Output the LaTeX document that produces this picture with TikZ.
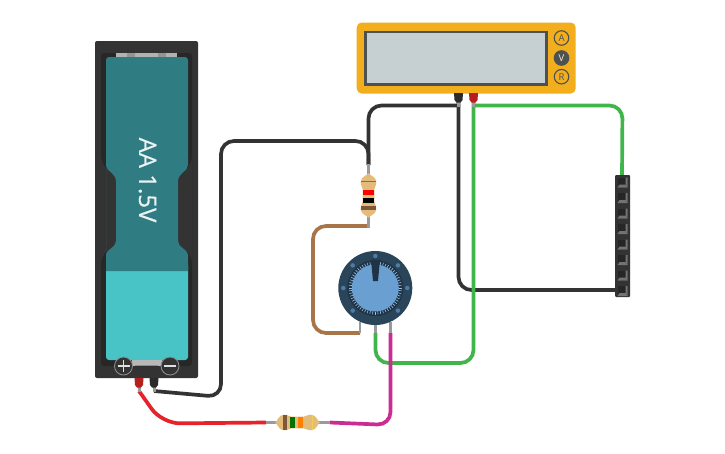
\documentclass[tikz,border=0pt]{standalone}
\usepackage{fontspec}
\setmainfont{Open Sans}
\usetikzlibrary{calc}
\definecolor{holder}{HTML}{333333}
\definecolor{holderin}{HTML}{272727}
\definecolor{celld}{HTML}{2F7C82}
\definecolor{celll}{HTML}{48C3C6}
\definecolor{wblack}{HTML}{333333}
\definecolor{wgreen}{HTML}{3FB54A}
\definecolor{wred}{HTML}{E6222B}
\definecolor{wpink}{HTML}{CB2C92}
\definecolor{wbrown}{HTML}{A8754A}
\definecolor{lead}{HTML}{9A9A9A}
\definecolor{rbody}{HTML}{E3BC7C}
\definecolor{mamber}{HTML}{F2AE1C}
\definecolor{mdark}{HTML}{4D5152}
\definecolor{mscreen}{HTML}{C6CFD1}
\definecolor{knobd}{HTML}{2A4459}
\definecolor{knobm}{HTML}{1E3346}
\definecolor{knobl}{HTML}{6A9FD2}
\definecolor{plugr}{HTML}{B5201F}
\definecolor{plugk}{HTML}{2B2B2B}
\tikzset{
 x=1pt,y=-1pt,
 wire/.style={line width=3.7pt,rounded corners=13pt,line cap=butt},
 leadw/.style={line width=2.4pt,color=lead},
 knobdot/.style={circle,fill=knobl!60!knobd,minimum size=4.5pt,inner sep=0pt},
 mbtn/.style={circle,draw=mdark,line width=1.1pt,minimum size=14.5pt,inner sep=0pt,font=\fontsize{9.5}{10}\selectfont,text=mdark},
 term/.style={circle,draw=white!45!holder,line width=0.8pt,fill=holder,minimum size=18pt,inner sep=0pt},
}
\newcommand{\plugb}[3]{%
 \fill[lead] (#1-1.5,#2+8) rectangle (#1+1.5,#2+14);
 \fill[#3] (#1-4.5,#2) -- (#1+4.5,#2) -- (#1+4,#2+7) -- (#1+2,#2+9.5) -- (#1-2,#2+9.5) -- (#1-4,#2+7) -- cycle;}
\newcommand{\resist}[7]{%
\begin{scope}[shift={(#1,#2)},rotate=#3]
 \fill[rbody] (-22.5,0) .. controls (-20,-1) and (-19,-7.8) .. (-13.5,-7.8) .. controls (-9,-7.8) and (-9,-5.8) .. (-6,-5.8) -- (6,-5.8) .. controls (9,-5.8) and (9,-7.8) .. (13.5,-7.8) .. controls (19,-7.8) and (20,-1) .. (22.5,0) .. controls (20,1) and (19,7.8) .. (13.5,7.8) .. controls (9,7.8) and (9,5.8) .. (6,5.8) -- (-6,5.8) .. controls (-9,5.8) and (-9,7.8) .. (-13.5,7.8) .. controls (-19,7.8) and (-20,1) .. (-22.5,0) -- cycle;
 \fill[#4] (-14.5,-7.8) rectangle (-10.5,7.8);
 \fill[#5] (-7.5,-5.8) rectangle (-2.8,5.8);
 \fill[#6] (0.5,-5.8) rectangle (5.2,5.8);
 \fill[#7] (14,-7.2) rectangle (15,7.2);
\end{scope}}
\begin{document}
\begin{tikzpicture}
\useasboundingbox (0,0) rectangle (725,453);
\fill[white] (0,0) rectangle (725,453);

% battery holder
\node[fill=holder,rounded corners=2pt,minimum width=103pt,minimum height=337pt,inner sep=0pt] (holder) at (146.5,209.5) {};
\fill[holderin,rounded corners=3pt] (101,53) rectangle (192,366);
\fill[holder] (101,155) .. controls (101,162) and (104,166) .. (108,170) -- (120,170) -- (120,250) -- (108,250) .. controls (104,254) and (101,258) .. (101,264) -- cycle;
\fill[holder] (192,155) .. controls (192,162) and (189,166) .. (186,170) -- (174,170) -- (174,250) -- (186,250) .. controls (189,254) and (192,258) .. (192,264) -- cycle;
% contacts
\fill[black!30] (116,53) rectangle (177,58);
\fill[black!42] (127,53) rectangle (135,58);
\fill[black!42] (158,53) rectangle (166,58);
% cell
\fill[celll,rounded corners=3pt] (106,262) rectangle (188,360);
\fill[celld] (106,262) -- (106,60) [rounded corners=3pt] -- (106,57) -- (188,57) [sharp corners] -- (188,165) .. controls (188,172) and (178,172) .. (178,182) -- (178,241) .. controls (178,248) and (188,249) .. (188,255) -- (188,271) -- (106,271) -- (106,255) .. controls (106,249) and (116,248) .. (116,241) -- (116,182) .. controls (116,172) and (106,172) .. (106,165) -- cycle;
\node[rotate=-90,text=white!90!celld,font=\fontsize{24}{24}\selectfont\addfontfeature{FakeBold=0.5}] (label) at (147.5,180) {AA 1.5V};
% bottom contact
\fill[black!28] (132,360) rectangle (162,366);
\draw[black!45,line width=0.6pt] (135,365) -- (158,365);
\node[term] (plus) at (123.5,366) {};
\node[term] (minus) at (170,366) {};
\draw[white!88!black,line width=1.8pt] (plus.center) ++(-6,0) -- ++(12,0) (plus.center) ++(0,-6) -- ++(0,12);
\draw[white!88!black,line width=1.8pt] (minus.center) ++(-6,0) -- ++(12,0);

% coordinates
\coordinate (batP) at (139,391);
\coordinate (batN) at (154,391);
\coordinate (metN) at (458.5,100);
\coordinate (metP) at (473.5,100);
\coordinate (jN) at (460,105.5);
\coordinate (jP) at (472,105.5);
\coordinate (r1t) at (368.5,165);
\coordinate (r1b) at (368.5,226);
\coordinate (r2l) at (266,422.5);
\coordinate (r2r) at (330,422.5);
\coordinate (potA) at (360,333);
\coordinate (potB) at (375.5,333);
\coordinate (potC) at (390.5,333);
\coordinate (h1) at (622,176);
\coordinate (h8) at (615,290);

% wires
\draw[wire,color=wblack] (batN) -- (221,397) -- (221,141) -- (368.5,141) -- (r1t);
\draw[wire,color=wblack] (r1t) -- (368.5,105.5) -- (jN);
\draw[wire,color=wblack] (metN) -- (458.5,290) -- (h8);
\draw[wire,color=wgreen] (jP) -- (622.5,105.5) -- (h1);
\draw[wire,color=wgreen] (metP) -- (473.5,363) -- (375.5,363) -- (potB);
\draw[wire,color=wbrown] (r1b) -- (313,226) -- (313,333) -- (potA);
\draw[wire,color=wred,rounded corners=18pt] (batP) -- (162,423.5) -- (r2l);
\draw[wire,color=wpink] (r2r) -- (390.5,425) -- (potC);

% resistors
\draw[leadw] (368.5,164) -- (368.5,175) (368.5,216) -- (368.5,227.5);
\resist{368.5}{195.5}{90}{wbrown!75!black}{black}{red}{rbody!60!black}
\draw[leadw] (r2l) -- (278,422.5) (318,422.5) -- (r2r);
\resist{297.5}{422.5}{0}{wbrown!75!black}{green!45!black}{orange}{rbody!70!yellow}

% potentiometer
\draw[leadw] (potA) -- (360,322);
\draw[leadw] (potB) -- (375.5,322);
\draw[leadw] (potC) -- (390.5,322);
\node[circle,fill=knobd,minimum size=74pt,inner sep=0pt] (pot) at (375.3,288) {};
\foreach \a in {0,45,135,180,225,270,315}{\node[knobdot] (d\a) at ($(pot.center)+(\a:32)$) {};}
\fill[knobm] (pot.center) circle (28);
\foreach \a in {0,6,...,354}{\draw[knobl!65!white,line width=0.6pt] ($(pot.center)+(\a:23.5)$) -- ($(pot.center)+(\a:26.5)$);}
\fill[knobl] (pot.center) circle (23.5);
\fill[knobm] (371,259.5) -- (380,259.5) -- (378,281) -- (373,281) -- cycle;

% multimeter
\node[fill=mamber,rounded corners=5pt,minimum width=219pt,minimum height=71pt,inner sep=0pt] (meter) at (466.2,58) {};
\node[draw=mdark,line width=2.5pt,fill=mscreen,minimum width=181pt,minimum height=52.5pt,inner sep=0pt] (screen) at (456,58.2) {};
\node[mbtn] (ba) at (561.5,38) {A};
\node[mbtn,fill=mdark,text=mamber!20!white] (bv) at (561.5,58) {V};
\node[mbtn] (br) at (561.5,76.7) {R};

% plugs
\plugb{139}{378}{plugr}
\plugb{154}{378}{plugk}
\plugb{458.5}{93}{plugk}
\plugb{473.5}{93}{plugr}

% header
\node[fill=holder,rounded corners=1pt,minimum width=15pt,minimum height=122pt,inner sep=0pt] (header) at (622.5,236) {};
\foreach \i in {0,...,7}{
 \fill[black!85] (617.5,177.5+\i*15.5) rectangle (627.5,187.5+\i*15.5);
 \fill[black!55] (617.5,187.5+\i*15.5) -- (619.5,184.5+\i*15.5) -- (625.5,184.5+\i*15.5) -- (627.5,187.5+\i*15.5) -- cycle;
 \fill[black!55] (625.5,177.5+\i*15.5) -- (627.5,177.5+\i*15.5) -- (627.5,187.5+\i*15.5) -- (625.5,184.5+\i*15.5) -- cycle;
}
\end{tikzpicture}
\end{document}
